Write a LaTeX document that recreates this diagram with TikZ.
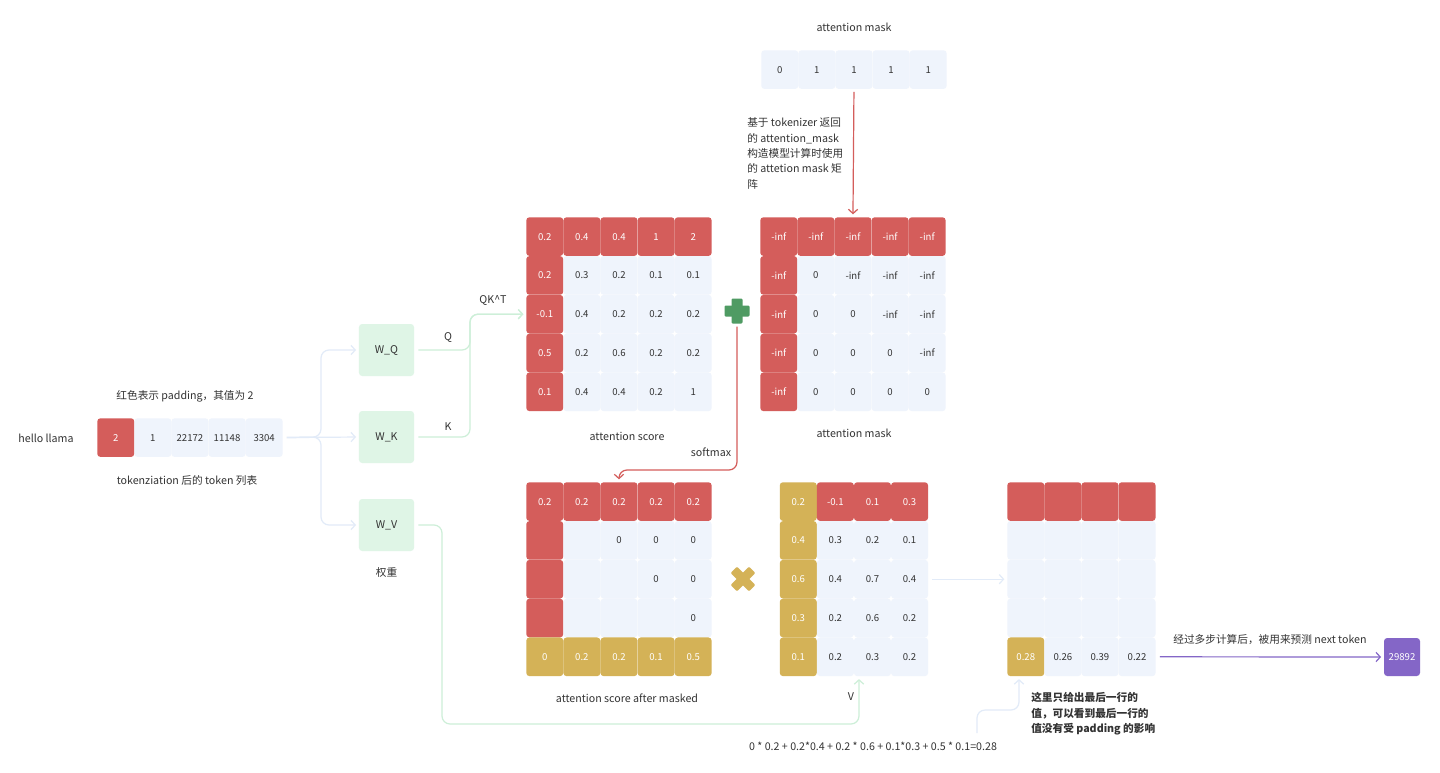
\documentclass[tikz,border=0pt]{standalone}
\usepackage{fontspec}
\setmainfont{Noto Sans CJK SC}
\usetikzlibrary{arrows.meta}
\definecolor{cred}{HTML}{D45D5B}
\definecolor{clight}{HTML}{EFF4FC}
\definecolor{cgold}{HTML}{D4B257}
\definecolor{cgbox}{HTML}{DFF5E6}
\definecolor{cplus}{HTML}{4F9B63}
\definecolor{cpurple}{HTML}{8466C7}
\definecolor{ctxt}{HTML}{333333}
\definecolor{cline}{HTML}{E2EBF8}
\definecolor{cgline}{HTML}{CDEFD8}
\definecolor{fr}{HTML}{D45D5B}
\definecolor{fl}{HTML}{EFF4FC}
\definecolor{fg}{HTML}{D4B257}
\definecolor{tr}{HTML}{FFFFFF}
\definecolor{tl}{HTML}{333333}
\definecolor{tg}{HTML}{FFFFFF}
\tikzset{
  cell/.style={rectangle, rounded corners=2.4pt, minimum width=27.75pt, minimum height=29pt,
    inner sep=0pt, anchor=north west, font=\fontsize{7.2}{9}\selectfont},
  lbl/.style={text=ctxt, inner sep=0pt, font=\fontsize{8}{11.5}\selectfont},
  wbox/.style={rectangle, rounded corners=2.4pt, fill=cgbox, minimum width=41.3pt, minimum height=39pt,
    text=ctxt, font=\fontsize{8}{10}\selectfont},
  barb/.style={-{Straight Barb[length=3.2pt,width=7pt]}},
  tokline/.style={draw=cline, line width=0.9pt, rounded corners=6pt, barb, shorten >=2pt, shorten <=3pt},
  gline/.style={draw=cgline, line width=0.9pt, rounded corners=6pt, barb, shorten >=2pt, shorten <=3pt},
  redarrow/.style={draw=cred, line width=0.9pt, rounded corners=6pt, barb, shorten >=2pt, shorten <=2pt},
  parrow/.style={draw=cpurple, line width=0.9pt, barb, shorten >=2pt, shorten <=3pt},
}
\newcommand\mymatrix[4]{%
  \foreach \row [count=\ri from 0] in {#4} {
    \foreach \cf/\v [count=\ci from 0] in \row {
      \node[cell, fill=f\cf, text=t\cf] (#1-\ri-\ci) at ({#2+\ci*37.1},{#3+\ri*38.8}) {\v};
    }
  }%
}
\begin{document}
\begin{tikzpicture}[x=0.75pt,y=-0.75pt]
\useasboundingbox (0,0) rectangle (1440,772);
\fill[white] (0,0) rectangle (1440,772);

% left part
\node[lbl] (hello) at (46,438) {hello llama};
\mymatrix{tok}{97}{418}{{r/2,l/1,l/22172,l/11148,l/3304}}
\node[lbl] (padnote) at (185,396) {红色表示 padding，其值为 2};
\node[lbl] (toknote) at (187,480) {tokenziation 后的 token 列表};

\node[wbox] (wq) at (386.5,350) {W\_Q};
\node[wbox] (wk) at (386.5,437) {W\_K};
\node[wbox] (wv) at (386.5,525) {W\_V};
\node[lbl] (wlbl) at (386.5,572) {权重};

\coordinate (br) at (321,437);
\draw[tokline] (tok-0-4.east) -- (br) |- (wq.west);
\draw[tokline] (tok-0-4.east) -- (wk.west);
\draw[tokline] (tok-0-4.east) -- (br) |- (wv.west);

% top matrices
\mymatrix{as}{526}{217}{{r/0.2,r/0.4,r/0.4,r/1,r/2},{r/0.2,l/0.3,l/0.2,l/0.1,l/0.1},{r/-0.1,l/0.4,l/0.2,l/0.2,l/0.2},{r/0.5,l/0.2,l/0.6,l/0.2,l/0.2},{r/0.1,l/0.4,l/0.4,l/0.2,l/1}}
\node[lbl] (aslbl) at (627,436) {attention score};

\mymatrix{mk}{760}{217}{{r/-inf,r/-inf,r/-inf,r/-inf,r/-inf},{r/-inf,l/0,l/-inf,l/-inf,l/-inf},{r/-inf,l/0,l/0,l/-inf,l/-inf},{r/-inf,l/0,l/0,l/0,l/-inf},{r/-inf,l/0,l/0,l/0,l/0}}
\node[lbl] (mklbl) at (854,433) {attention mask};

\node[lbl] (amlbl) at (854,27) {attention mask};
\mymatrix{am}{761}{50}{{l/0,l/1,l/1,l/1,l/1}}
\node[lbl, align=left, anchor=north west] (mnote) at (747,117.5) {基于 tokenizer 返回\\的 attention\_mask\\构造模型计算时使用\\的 attetion mask 矩\\阵};
\draw[redarrow] (am-0-2.south) -- (mk-0-2.north);

\coordinate (qkx) at (470,0);
\draw[gline] (wq.east) -- (wq.east -| qkx) |- (as-2-0.west);
\draw[gline] (wk.east) -- (wk.east -| qkx) |- (as-2-0.west);
\node[lbl] (qlbl) at (448,337) {Q};
\node[lbl] (klbl) at (448,427) {K};
\node[lbl] (qktlbl) at (493,300) {QK\^{}T};

% plus
\node[minimum size=19pt, inner sep=0pt] (plus) at (737,311) {};
\fill[cplus, rounded corners=0.8pt, shift={(plus.center)}] (-12.5,-5.5) rectangle (12.5,5.5);
\fill[cplus, rounded corners=0.8pt, shift={(plus.center)}] (-5.5,-12.5) rectangle (5.5,12.5);

% bottom matrices
\mymatrix{bs}{526}{482}{{r/0.2,r/0.2,r/0.2,r/0.2,r/0.2},{r/{},l/{},l/0,l/0,l/0},{r/{},l/{},l/{},l/0,l/0},{r/{},l/{},l/{},l/{},l/0},{g/0,g/0.2,g/0.2,g/0.1,g/0.5}}
\node[lbl] (bslbl) at (627,698) {attention score after masked};

% softmax arrow
\coordinate (sm) at (0,470);
\draw[redarrow] (plus.south) -- (plus.south |- sm) -| (bs-0-2.north);
\node[lbl] (smlbl) at (711,452) {softmax};

\node[minimum size=19pt, inner sep=0pt] (times) at (743,579) {};
\fill[cgold, rounded corners=0.8pt, shift={(times.center)}, rotate=45] (-13,-4.5) rectangle (13,4.5);
\fill[cgold, rounded corners=0.8pt, shift={(times.center)}, rotate=45] (-4.5,-13) rectangle (4.5,13);

\mymatrix{vm}{779.5}{482}{{g/0.2,r/-0.1,r/0.1,r/0.3},{g/0.4,l/0.3,l/0.2,l/0.1},{g/0.6,l/0.4,l/0.7,l/0.4},{g/0.3,l/0.2,l/0.6,l/0.2},{g/0.1,l/0.2,l/0.3,l/0.2}}
\node[lbl] (vlbl) at (851,697) {V};

\mymatrix{rm}{1007}{482}{{r/{},r/{},r/{},r/{}},{l/{},l/{},l/{},l/{}},{l/{},l/{},l/{},l/{}},{l/{},l/{},l/{},l/{}},{g/0.28,l/0.26,l/0.39,l/0.22}}

\draw[tokline] (vm-2-3.east) -- (rm-2-0.west);

\coordinate (wvx) at (442,724);
\coordinate (vin) at (859,724);
\draw[gline] (wv.east) -- (wv.east -| wvx) |- (vin) -- (vin |- vm-4-1.south);

\node[lbl] (formula) at (873,746.5) {0 * 0.2 + 0.2*0.4 + 0.2 * 0.6 + 0.1*0.3 + 0.5 * 0.1=0.28};
\coordinate (fs) at (977,737);
\coordinate (fc) at (1019,710);
\draw[tokline] (fs) |- (fc) -- (fc |- rm-4-0.south);

\node[lbl, font=\fontsize{8}{11.5}\selectfont\bfseries, align=left, anchor=north west] (note) at (1031,692.5) {这里只给出最后一行的\\值，可以看到最后一行的\\值没有受 padding 的影响};

\node[rectangle, rounded corners=2.4pt, fill=cpurple, text=white, minimum width=27pt, minimum height=28.5pt, inner sep=0pt, font=\fontsize{7.2}{9}\selectfont] (out) at (1402,657) {29892};
\draw[parrow] (rm-4-3.east) -- (out.west);
\node[lbl] (outlbl) at (1270,640) {经过多步计算后，被用来预测 next token};
\end{tikzpicture}
\end{document}
